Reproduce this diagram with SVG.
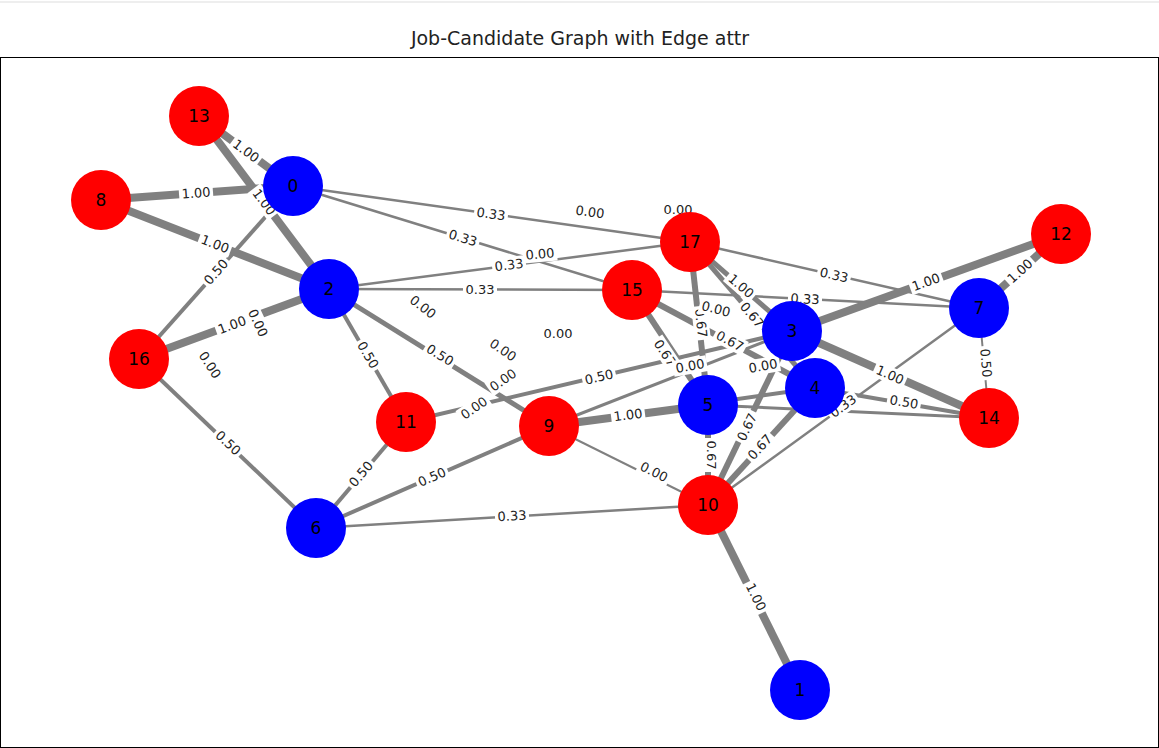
<svg xmlns="http://www.w3.org/2000/svg" width="1159" height="748" viewBox="0 0 1159 748">
<style>
.e{stroke:#808080;stroke-linecap:butt;fill:none}
.l{font-family:"DejaVu Sans",sans-serif;font-size:13px;fill:#222;text-anchor:middle;dominant-baseline:central}
.lb{fill:#fff}
.n text{font-family:"DejaVu Sans",sans-serif;font-size:17px;fill:#000;text-anchor:middle;dominant-baseline:central}
.r{fill:#ff0000}.b{fill:#0000ff}
</style>
<rect width="1159" height="748" fill="#fff"/>
<line x1="0" y1="2" x2="1159" y2="2" stroke="#ddd"/>
<text x="580" y="38" font-family="DejaVu Sans,sans-serif" font-size="19" text-anchor="middle" dominant-baseline="central" fill="#222">Job-Candidate Graph with Edge attr</text>
<rect x="0.5" y="57.5" width="1158" height="690" fill="none" stroke="#000"/>
<g id="edges">
<line class="e" x1="199" y1="116" x2="293" y2="186" stroke-width="8"/>
<line class="e" x1="199" y1="116" x2="329" y2="289" stroke-width="8"/>
<line class="e" x1="101" y1="200" x2="293" y2="186" stroke-width="8"/>
<line class="e" x1="101" y1="200" x2="329" y2="289" stroke-width="8"/>
<line class="e" x1="293" y1="186" x2="139" y2="359" stroke-width="4"/>
<line class="e" x1="329" y1="289" x2="139" y2="359" stroke-width="8"/>
<line class="e" x1="329" y1="289" x2="406" y2="422" stroke-width="4"/>
<line class="e" x1="329" y1="289" x2="549" y2="426" stroke-width="5"/>
<line class="e" x1="293" y1="186" x2="690" y2="242" stroke-width="2.5"/>
<line class="e" x1="293" y1="186" x2="632" y2="290" stroke-width="2.5"/>
<line class="e" x1="329" y1="289" x2="690" y2="242" stroke-width="2.5"/>
<line class="e" x1="329" y1="289" x2="632" y2="290" stroke-width="2.5"/>
<line class="e" x1="139" y1="359" x2="316" y2="528" stroke-width="4"/>
<line class="e" x1="316" y1="528" x2="406" y2="422" stroke-width="4"/>
<line class="e" x1="316" y1="528" x2="549" y2="426" stroke-width="4"/>
<line class="e" x1="316" y1="528" x2="708" y2="505" stroke-width="2.5"/>
<line class="e" x1="406" y1="422" x2="792" y2="331" stroke-width="4"/>
<line class="e" x1="549" y1="426" x2="708" y2="505" stroke-width="2"/>
<line class="e" x1="549" y1="426" x2="708" y2="405" stroke-width="8"/>
<line class="e" x1="549" y1="426" x2="792" y2="331" stroke-width="3"/>
<line class="e" x1="549" y1="426" x2="815" y2="388" stroke-width="4"/>
<line class="e" x1="792" y1="331" x2="989" y2="418" stroke-width="8"/>
<line class="e" x1="792" y1="331" x2="1061" y2="234" stroke-width="8"/>
<line class="e" x1="1061" y1="234" x2="979" y2="308" stroke-width="8"/>
<line class="e" x1="690" y1="242" x2="979" y2="308" stroke-width="2.5"/>
<line class="e" x1="632" y1="290" x2="979" y2="308" stroke-width="2.5"/>
<line class="e" x1="979" y1="308" x2="708" y2="505" stroke-width="2.5"/>
<line class="e" x1="708" y1="505" x2="800" y2="690" stroke-width="8"/>
<line class="e" x1="708" y1="505" x2="815" y2="388" stroke-width="6"/>
<line class="e" x1="708" y1="505" x2="792" y2="331" stroke-width="6"/>
<line class="e" x1="708" y1="505" x2="708" y2="405" stroke-width="6"/>
<line class="e" x1="690" y1="242" x2="708" y2="405" stroke-width="6"/>
<line class="e" x1="632" y1="290" x2="815" y2="388" stroke-width="6"/>
<line class="e" x1="632" y1="290" x2="708" y2="405" stroke-width="6"/>
<line class="e" x1="690" y1="242" x2="792" y2="331" stroke-width="5"/>
<line class="e" x1="690" y1="242" x2="815" y2="388" stroke-width="5"/>
<line class="e" x1="815" y1="388" x2="989" y2="418" stroke-width="4"/>
<line class="e" x1="708" y1="405" x2="989" y2="418" stroke-width="3"/>
<line class="e" x1="979" y1="308" x2="989" y2="418" stroke-width="2"/>
</g>
<g id="edge-labels">
<g transform="translate(246,151) rotate(36.7)"><rect class="lb" x="-17" y="-8" width="34" height="16"/><text class="l">1.00</text></g>
<g transform="translate(264,202) rotate(53)"><rect class="lb" x="-17" y="-8" width="34" height="16"/><text class="l">1.00</text></g>
<g transform="translate(196,193) rotate(-4)"><rect class="lb" x="-17" y="-8" width="34" height="16"/><text class="l">1.00</text></g>
<g transform="translate(215,244) rotate(21)"><rect class="lb" x="-17" y="-8" width="34" height="16"/><text class="l">1.00</text></g>
<g transform="translate(216,272) rotate(-48.3)"><rect class="lb" x="-17" y="-8" width="34" height="16"/><text class="l">0.50</text></g>
<g transform="translate(232,325) rotate(-20.2)"><rect class="lb" x="-17" y="-8" width="34" height="16"/><text class="l">1.00</text></g>
<g transform="translate(368,355) rotate(60)"><rect class="lb" x="-17" y="-8" width="34" height="16"/><text class="l">0.50</text></g>
<g transform="translate(440,355) rotate(32)"><rect class="lb" x="-17" y="-8" width="34" height="16"/><text class="l">0.50</text></g>
<g transform="translate(491,214) rotate(8)"><rect class="lb" x="-17" y="-8" width="34" height="16"/><text class="l">0.33</text></g>
<g transform="translate(463,238) rotate(17)"><rect class="lb" x="-17" y="-8" width="34" height="16"/><text class="l">0.33</text></g>
<g transform="translate(509,265) rotate(-7.4)"><rect class="lb" x="-17" y="-8" width="34" height="16"/><text class="l">0.33</text></g>
<g transform="translate(480,289)"><rect class="lb" x="-17" y="-8" width="34" height="16"/><text class="l">0.33</text></g>
<g transform="translate(228,443) rotate(43.7)"><rect class="lb" x="-17" y="-8" width="34" height="16"/><text class="l">0.50</text></g>
<g transform="translate(361,474) rotate(-49.7)"><rect class="lb" x="-17" y="-8" width="34" height="16"/><text class="l">0.50</text></g>
<g transform="translate(432,477) rotate(-23.6)"><rect class="lb" x="-17" y="-8" width="34" height="16"/><text class="l">0.50</text></g>
<g transform="translate(512,516) rotate(-3.4)"><rect class="lb" x="-17" y="-8" width="34" height="16"/><text class="l">0.33</text></g>
<g transform="translate(599,377) rotate(-13.3)"><rect class="lb" x="-17" y="-8" width="34" height="16"/><text class="l">0.50</text></g>
<g transform="translate(654,472) rotate(26.4)"><rect class="lb" x="-17" y="-8" width="34" height="16"/><text class="l">0.00</text></g>
<g transform="translate(628,415) rotate(-7.5)"><rect class="lb" x="-17" y="-8" width="34" height="16"/><text class="l">1.00</text></g>
<g transform="translate(890,375) rotate(23.8)"><rect class="lb" x="-17" y="-8" width="34" height="16"/><text class="l">1.00</text></g>
<g transform="translate(926,282) rotate(-19.8)"><rect class="lb" x="-17" y="-8" width="34" height="16"/><text class="l">1.00</text></g>
<g transform="translate(1020,271) rotate(-42)"><rect class="lb" x="-17" y="-8" width="34" height="16"/><text class="l">1.00</text></g>
<g transform="translate(986,363) rotate(85)"><rect class="lb" x="-17" y="-8" width="34" height="16"/><text class="l">0.50</text></g>
<g transform="translate(834,275) rotate(12.9)"><rect class="lb" x="-17" y="-8" width="34" height="16"/><text class="l">0.33</text></g>
<g transform="translate(805,299) rotate(3)"><rect class="lb" x="-17" y="-8" width="34" height="16"/><text class="l">0.33</text></g>
<g transform="translate(843,406) rotate(-36)"><rect class="lb" x="-17" y="-8" width="34" height="16"/><text class="l">0.33</text></g>
<g transform="translate(904,402) rotate(9.8)"><rect class="lb" x="-17" y="-8" width="34" height="16"/><text class="l">0.50</text></g>
<g transform="translate(756,597) rotate(63.6)"><rect class="lb" x="-17" y="-8" width="34" height="16"/><text class="l">1.00</text></g>
<g transform="translate(760,447) rotate(-47.6)"><rect class="lb" x="-17" y="-8" width="34" height="16"/><text class="l">0.67</text></g>
<g transform="translate(747,427) rotate(-64)"><rect class="lb" x="-17" y="-8" width="34" height="16"/><text class="l">0.67</text></g>
<g transform="translate(711,455) rotate(90)"><rect class="lb" x="-17" y="-8" width="34" height="16"/><text class="l">0.67</text></g>
<g transform="translate(701,323) rotate(83.7)"><rect class="lb" x="-17" y="-8" width="34" height="16"/><text class="l">0.67</text></g>
<g transform="translate(730,341) rotate(28)"><rect class="lb" x="-17" y="-8" width="34" height="16"/><text class="l">0.67</text></g>
<g transform="translate(665,353) rotate(56.5)"><rect class="lb" x="-17" y="-8" width="34" height="16"/><text class="l">0.67</text></g>
<g transform="translate(741,286) rotate(41)"><rect class="lb" x="-17" y="-8" width="34" height="16"/><text class="l">1.00</text></g>
<g transform="translate(752,315) rotate(49.4)"><rect class="lb" x="-17" y="-8" width="34" height="16"/><text class="l">0.67</text></g>
<g transform="translate(716,309) rotate(14.4)"><rect class="lb" x="-17" y="-8" width="34" height="16"/><text class="l">0.00</text></g>
<g transform="translate(763,366) rotate(-10)"><rect class="lb" x="-17" y="-8" width="34" height="16"/><text class="l">0.00</text></g>
<g transform="translate(690,366) rotate(-10)"><rect class="lb" x="-17" y="-8" width="34" height="16"/><text class="l">0.00</text></g>
<g transform="translate(590,212) rotate(8)"><rect class="lb" x="-17" y="-8" width="34" height="16"/><text class="l">0.00</text></g>
<g transform="translate(678,209)"><rect class="lb" x="-17" y="-8" width="34" height="16"/><text class="l">0.00</text></g>
<g transform="translate(540,254) rotate(-5)"><rect class="lb" x="-17" y="-8" width="34" height="16"/><text class="l">0.00</text></g>
<g transform="translate(423,307) rotate(38)"><rect class="lb" x="-17" y="-8" width="34" height="16"/><text class="l">0.00</text></g>
<g transform="translate(503,350) rotate(35)"><rect class="lb" x="-17" y="-8" width="34" height="16"/><text class="l">0.00</text></g>
<g transform="translate(558,333)"><rect class="lb" x="-17" y="-8" width="34" height="16"/><text class="l">0.00</text></g>
<g transform="translate(258,323) rotate(65)"><rect class="lb" x="-17" y="-8" width="34" height="16"/><text class="l">0.00</text></g>
<g transform="translate(210,365) rotate(57)"><rect class="lb" x="-17" y="-8" width="34" height="16"/><text class="l">0.00</text></g>
<g transform="translate(474,408) rotate(-35)"><rect class="lb" x="-17" y="-8" width="34" height="16"/><text class="l">0.00</text></g>
<g transform="translate(503,380) rotate(-35)"><rect class="lb" x="-17" y="-8" width="34" height="16"/><text class="l">0.00</text></g>
</g>
<g id="node-13" class="n"><circle class="r" cx="199" cy="116" r="30"/><text x="199" y="116">13</text></g>
<g id="node-0" class="n"><circle class="b" cx="293" cy="186" r="30"/><text x="293" y="186">0</text></g>
<g id="node-8" class="n"><circle class="r" cx="101" cy="200" r="30"/><text x="101" y="200">8</text></g>
<g id="node-2" class="n"><circle class="b" cx="329" cy="289" r="30"/><text x="329" y="289">2</text></g>
<g id="node-16" class="n"><circle class="r" cx="139" cy="359" r="30"/><text x="139" y="359">16</text></g>
<g id="node-11" class="n"><circle class="r" cx="406" cy="422" r="30"/><text x="406" y="422">11</text></g>
<g id="node-6" class="n"><circle class="b" cx="316" cy="528" r="30"/><text x="316" y="528">6</text></g>
<g id="node-9" class="n"><circle class="r" cx="549" cy="426" r="30"/><text x="549" y="426">9</text></g>
<g id="node-17" class="n"><circle class="r" cx="690" cy="242" r="30"/><text x="690" y="242">17</text></g>
<g id="node-15" class="n"><circle class="r" cx="632" cy="290" r="30"/><text x="632" y="290">15</text></g>
<g id="node-12" class="n"><circle class="r" cx="1061" cy="234" r="30"/><text x="1061" y="234">12</text></g>
<g id="node-7" class="n"><circle class="b" cx="979" cy="308" r="30"/><text x="979" y="308">7</text></g>
<g id="node-3" class="n"><circle class="b" cx="792" cy="331" r="30"/><text x="792" y="331">3</text></g>
<g id="node-4" class="n"><circle class="b" cx="815" cy="388" r="30"/><text x="815" y="388">4</text></g>
<g id="node-5" class="n"><circle class="b" cx="708" cy="405" r="30"/><text x="708" y="405">5</text></g>
<g id="node-14" class="n"><circle class="r" cx="989" cy="418" r="30"/><text x="989" y="418">14</text></g>
<g id="node-10" class="n"><circle class="r" cx="708" cy="505" r="30"/><text x="708" y="505">10</text></g>
<g id="node-1" class="n"><circle class="b" cx="800" cy="690" r="30"/><text x="800" y="690">1</text></g>
</svg>
